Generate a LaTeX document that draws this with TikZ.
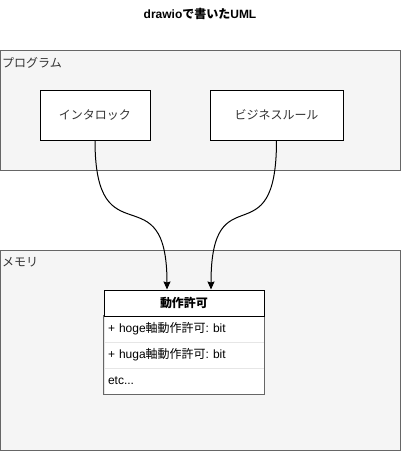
\documentclass[tikz,border=0pt]{standalone}
\usepackage{fontspec}
\setmainfont{Liberation Sans}
\newfontfamily\jp{Noto Sans CJK JP}
\usetikzlibrary{arrows.meta,calc}
\definecolor{boxfill}{HTML}{F5F5F5}
\definecolor{boxline}{HTML}{666666}
\definecolor{labeltext}{HTML}{333333}
\definecolor{rowline}{HTML}{E6E6E6}
\frenchspacing
\begin{document}
\begin{tikzpicture}[x=1pt, y=-1pt,
        font=\fontsize{12}{14}\selectfont,
        container/.style={draw=boxline, fill=boxfill, line width=1pt},
        group/.style={anchor=north west, inner sep=1pt, text=labeltext, font=\fontsize{12}{14}\selectfont\jp},
        block/.style={rectangle, draw, fill=white, line width=1pt, text=labeltext, font=\fontsize{12}{14}\selectfont\jp},
        classhead/.style={rectangle, draw, fill=white, line width=1pt, minimum width=160pt, minimum height=26pt, inner sep=0pt},
        classrow/.style={rectangle, draw=rowline, fill=white, line width=1pt, minimum width=160pt, minimum height=26pt, text width=152pt, align=left, inner sep=4pt},
        arrow/.style={-{Stealth[length=8pt,width=7pt,inset=1pt]}, line width=1pt}
    ]
        \useasboundingbox (0,0) rectangle (401,451);

        % Title
        \node (title) at (200,14) {\bfseries drawio{\jp で書いた}UML};

        % Program
        \draw[container] (0.5,50) rectangle (400,170);
        \node[group] (program) at (1,56) {プログラム};
        \node[block, minimum width=110pt, minimum height=50pt] (lock) at (95,115) {インタロック};
        \node[block, minimum width=133pt, minimum height=50pt] (rule) at (276.5,115) {ビジネスルール};

        % Memory
        \draw[container] (0.5,250) rectangle (400,450);
        \node[group] (memory) at (1,256) {メモリ};
        \node[classhead] (perm) at (184,303) {\jp\bfseries 動作許可};
        \node[classrow] (row1) at (184,329) {+ hoge{\jp 軸動作許可}: bit};
        \node[classrow] (row2) at (184,355) {+ huga{\jp 軸動作許可}: bit};
        \node[classrow] (row3) at (184,381) {etc...};
        \draw[draw=boxline, line width=1pt] (row1.north west) rectangle (row3.south east);
        \node[classhead] at (perm) {\jp\bfseries 動作許可};

        \draw[arrow] (lock.south) .. controls +(0,122) and +(0,-120) .. ([xshift=-17pt]perm.north);
        \draw[arrow] (rule.south) .. controls +(0,122) and +(0,-120) .. ([xshift=27pt]perm.north);
    \end{tikzpicture}
\end{document}
